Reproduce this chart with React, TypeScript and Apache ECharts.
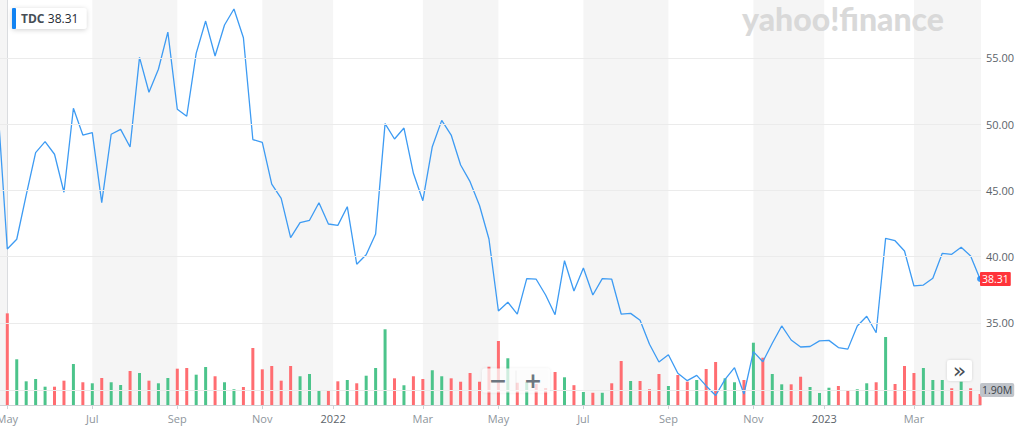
import React, { useEffect, useRef } from "react";
import * as echarts from "echarts";

// ---- data (weekly, first week = early May 2021) ----
const symbolName = "TDC";
const priorClose = 51.3; // week before the first visible week
const prices = [
  40.57, 41.31, 44.65, 47.85, 48.68, 47.73, 44.86, 51.2, 49.18, 49.36,
  44.07, 49.24, 49.61, 48.28, 55.05, 52.41, 54.15, 56.96, 51.13, 50.6,
  55.35, 57.79, 55.15, 57.49, 58.7, 56.53, 48.84, 48.62, 45.48, 44.4,
  41.43, 42.56, 42.74, 44.07, 42.46, 42.36, 43.77, 39.42, 40.14, 41.71,
  50.04, 48.88, 49.71, 46.29, 44.22, 48.3, 50.29, 49.18, 46.92, 45.66,
  43.86, 41.33, 35.89, 36.55, 35.66, 38.33, 38.29, 37.1, 35.61, 39.69,
  37.4, 39.14, 37.1, 38.33, 38.29, 35.66, 35.71, 35.19, 33.38, 32.04,
  32.59, 31.19, 30.63, 31.03, 30.23, 29.51, 30.72, 31.61, 29.62, 32.82,
  32.06, 33.45, 34.76, 33.7, 33.17, 33.21, 33.63, 33.67, 33.13, 33.01,
  34.76, 35.49, 34.25, 41.38, 41.2, 40.42, 37.78, 37.85, 38.36, 40.25,
  40.17, 40.7, 40.05, 38.31,
];
const volumesM = [
  11.61, 5.79, 3.0, 3.29, 2.32, 2.32, 3.08, 5.19, 2.88, 2.75,
  3.42, 2.88, 2.53, 4.31, 4.05, 3.08, 2.75, 3.42, 4.6, 4.69,
  3.84, 4.81, 3.64, 2.88, 1.99, 2.28, 7.22, 4.52, 4.94, 3.08,
  4.94, 3.64, 3.93, 1.9, 1.77, 3.0, 3.17, 2.75, 3.71, 4.69,
  9.59, 3.38, 2.5, 3.64, 3.29, 4.4, 3.64, 3.38, 2.95, 4.05,
  2.95, 4.85, 8.11, 5.92, 2.82, 2.91, 2.66, 2.15, 4.18, 3.51,
  2.51, 1.65, 1.55, 1.55, 2.75, 5.57, 3.04, 3.04, 1.99, 3.93,
  2.41, 3.8, 2.95, 3.17, 4.56, 5.45, 3.38, 2.88, 3.17, 7.89,
  5.99, 3.93, 2.62, 2.62, 3.58, 2.28, 1.52, 2.19, 2.41, 1.77,
  1.99, 2.75, 2.88, 8.61, 2.66, 4.94, 4.05, 4.69, 3.17, 3.17,
  2.12, 2.95, 2.12, 1.39,
];
const tickWeeks = [0, 9, 18, 27, 34.5, 44, 52, 61, 70, 79, 86.5, 96];
const tickLabels = ["May", "Jul", "Sep", "Nov", "2022", "Mar", "May", "Jul", "Sep", "Nov", "2023", "Mar"];
const X_MIN = -0.773;
const X_MAX = 103.1;
const shadedRanges = [
  [X_MIN, 0],
  [9, 18],
  [27, 34.5],
  [44, 52],
  [61, 70],
  [79, 86.5],
  [96, X_MAX],
];
const priceTicks = [35, 40, 45, 50, 55];
const volumeMarkM = 1.9;

// ---- styling ----
const LINE_BLUE = "#3d9bf3";
const UP = "#4cc48b";
const DOWN = "#ff6d71";

export default function App() {
  const ref = useRef<HTMLDivElement>(null);

  useEffect(() => {
    if (!ref.current) return;
    const chart = echarts.init(ref.current, undefined, { renderer: "svg" });
    const last = prices[prices.length - 1];
    const lineData = [[-1, priorClose], ...prices.map((p, i) => [i, p])];
    const barData = volumesM.map((v, i) => {
      const prev = i === 0 ? priorClose : prices[i - 1];
      return {
        value: [i, v],
        itemStyle: { color: prices[i] >= prev ? UP : DOWN },
      };
    });

    chart.setOption({
      animation: false,
      backgroundColor: "#ffffff",
      grid: { left: 0, right: 43, top: 0, bottom: 32, containLabel: false, outerBoundsMode: "none" },
      legend: {
        show: true,
        left: 12,
        top: 8,
        data: [{ name: symbolName, icon: "roundRect", itemStyle: { color: "#1283f2" } }],
        itemWidth: 4,
        itemHeight: 21,
        padding: [0, 8, 0, 0],
        backgroundColor: "#ffffff",
        borderRadius: 3,
        shadowBlur: 5,
        shadowColor: "rgba(0,0,0,0.18)",
        shadowOffsetY: 1,
        selectedMode: false,
        formatter: (name: string) => `{n|${name}} {v|${last.toFixed(2)}}`,
        textStyle: {
          rich: {
            n: { fontFamily: "Open Sans, sans-serif", fontSize: 12, fontWeight: "bold", color: "#464e56" },
            v: { fontFamily: "Open Sans, sans-serif", fontSize: 12, color: "#232a31" },
          },
        },
      },
      xAxis: {
        type: "value",
        min: X_MIN,
        max: X_MAX,
        axisLine: { show: true, lineStyle: { color: "#cfd2d6", width: 1 } },
        axisTick: {
          show: true,
          customValues: tickWeeks,
          length: 4,
          lineStyle: { color: "#cfd2d6" },
        },
        splitLine: { show: false },
        axisLabel: {
          show: true,
          customValues: tickWeeks,
          margin: 8,
          hideOverlap: false,
          showMinLabel: true,
          formatter: (val: number) => {
            const k = tickWeeks.findIndex((t) => Math.abs(t - val) < 1e-6);
            if (k < 0) return "";
            const s = tickLabels[k];
            return /^\d{4}$/.test(s) ? `{y|${s}}` : `{m|${s}}`;
          },
          rich: {
            m: { fontFamily: "Open Sans, sans-serif", fontSize: 11, color: "#8e959c" },
            y: { fontFamily: "Open Sans, sans-serif", fontSize: 11, color: "#5b636a" },
          },
        },
      },
      yAxis: [
        {
          type: "value",
          position: "right",
          min: 28.79,
          max: 59.38,
          axisLine: { show: true, lineStyle: { color: "#cfd2d6" } },
          axisTick: {
            show: true,
            customValues: priceTicks,
            length: 3,
            lineStyle: { color: "#cfd2d6" },
          },
          splitLine: { show: false },
          axisLabel: {
            show: true,
            customValues: priceTicks,
            margin: 5,
            fontFamily: "Open Sans, sans-serif",
            fontSize: 11,
            color: "#5b636a",
            formatter: (v: number) => v.toFixed(2),
          },
        },
        {
          type: "value",
          position: "right",
          min: 0,
          max: (volumeMarkM * 405) / 15,
          show: false,
          splitLine: { show: false },
        },
      ],
      series: [
        {
          name: "bands",
          type: "line",
          z: 0,
          silent: true,
          data: lineData,
          showSymbol: false,
          lineStyle: { opacity: 0 },
          markArea: {
            silent: true,
            itemStyle: { color: "#f5f5f5" },
            data: shadedRanges.map(([a, b]) => [{ xAxis: a }, { xAxis: b }]),
          },
          markLine: {
            silent: true,
            symbol: "none",
            label: { show: false },
            lineStyle: { color: "#ebebeb", type: "solid", width: 1, opacity: 1 },
            data: priceTicks.map((t) => ({ yAxis: t })),
          },
        },
        {
          name: "Volume",
          type: "bar",
          yAxisIndex: 1,
          z: 2,
          barWidth: 3,
          data: barData,
          markLine: {
            silent: true,
            symbol: "none",
            lineStyle: { color: "#ebebeb", type: "solid", width: 1 },
            label: {
              show: true,
              position: "end",
              distance: -1,
              formatter: () => `${volumeMarkM.toFixed(2)}M`,
              backgroundColor: "#c0c4ca",
              color: "#3b4249",
              fontFamily: "Open Sans, sans-serif",
              fontSize: 10.5,
              padding: [2, 2, 1, 2],
              borderRadius: 2,
            },
            data: [{ yAxis: volumeMarkM }],
          },
        },
        {
          name: symbolName,
          type: "line",
          z: 3,
          data: lineData,
          showSymbol: false,
          color: LINE_BLUE,
          lineStyle: { color: LINE_BLUE, width: 1.3 },
          markLine: {
            silent: true,
            symbol: "none",
            lineStyle: { color: "rgba(0,0,0,0)", width: 0 },
            label: {
              show: true,
              position: "end",
              distance: -1,
              formatter: () => last.toFixed(2),
              backgroundColor: "#ff333a",
              color: "#ffffff",
              fontFamily: "Open Sans, sans-serif",
              fontSize: 10.5,
              padding: [2, 2, 1, 2],
              borderRadius: 1,
              opacity: 1,
            },
            data: [{ yAxis: last }],
          },
        },
        {
          name: "lastDot",
          type: "scatter",
          z: 4,
          symbolSize: 6,
          itemStyle: { color: "#1283f2" },
          data: [[prices.length - 1, last]],
        },
      ],
      graphic: [
        {
          type: "text",
          left: 742,
          top: 2,
          z: 50,
          silent: true,
          style: {
            text: "yahoo!finance",
            fontFamily: "Lato, Open Sans, sans-serif",
            fontWeight: 900,
            fontSize: 32,
            fill: "#d9d9d9",
          },
        },
        {
          type: "group",
          left: 482,
          top: 368,
          z: 50,
          children: [
            {
              type: "rect",
              z: 50,
              shape: { x: 0, y: 0, width: 68, height: 24, r: 3 },
              style: { fill: "rgba(255,255,255,0.72)", shadowBlur: 3, shadowColor: "rgba(0,0,0,0.12)" },
            },
            { type: "line", z: 51, shape: { x1: 34, y1: 2, x2: 34, y2: 22 }, style: { stroke: "rgba(0,0,0,0.06)" } },
            {
              type: "text",
              z: 51,
              x: 16,
              y: 12,
              style: { text: "−", fontSize: 22, fontWeight: "bold", fill: "#6e7780", align: "center", verticalAlign: "middle", fontFamily: "DejaVu Sans" },
            },
            {
              type: "text",
              z: 51,
              x: 51,
              y: 12,
              style: { text: "+", fontSize: 22, fontWeight: "bold", fill: "#6e7780", align: "center", verticalAlign: "middle", fontFamily: "DejaVu Sans" },
            },
          ],
        },
        {
          type: "group",
          left: 947,
          top: 359,
          z: 50,
          children: [
            {
              type: "rect",
              z: 50,
              shape: { x: 0, y: 0, width: 25, height: 21, r: 3 },
              style: { fill: "#ffffff", shadowBlur: 3, shadowColor: "rgba(0,0,0,0.15)" },
            },
            {
              type: "text",
              z: 51,
              x: 12.5,
              y: 10,
              style: { text: "»", fontSize: 22, fill: "#464e56", align: "center", verticalAlign: "middle", fontFamily: "DejaVu Sans" },
            },
          ],
        },
      ],
    });

    return () => chart.dispose();
  }, []);

  return (
    <div
      ref={ref}
      style={{ position: "fixed", left: 0, top: 0, width: 1024, height: 437, background: "#fff" }}
    />
  );
}
